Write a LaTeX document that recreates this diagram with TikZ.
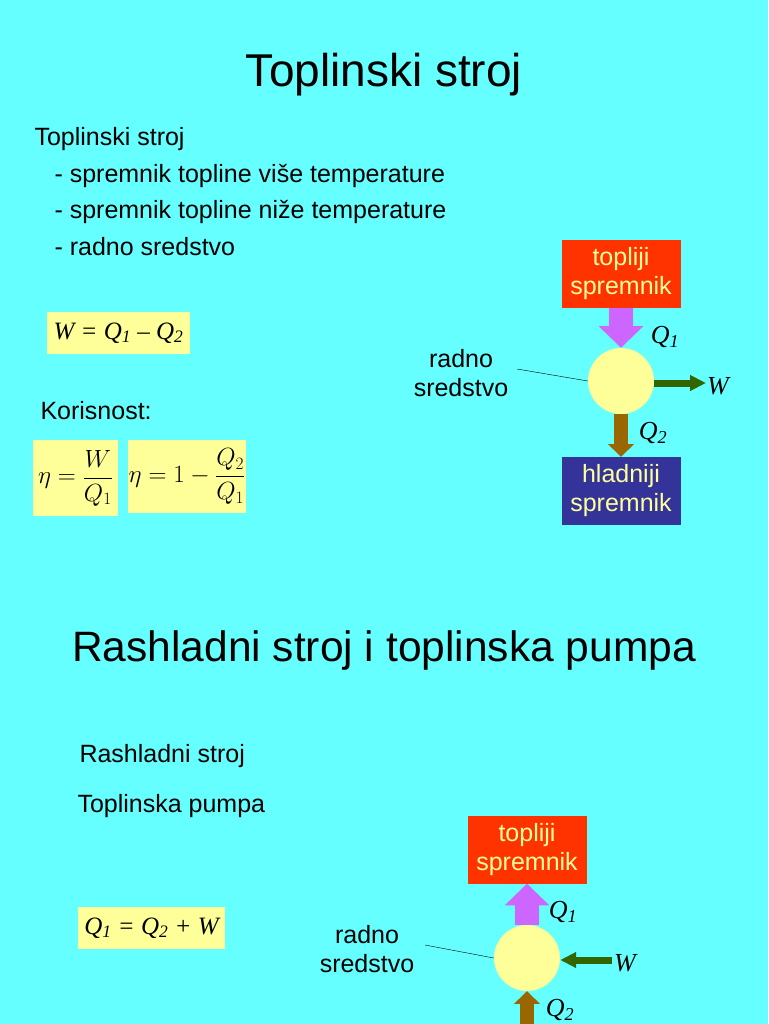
\documentclass[tikz,border=0pt]{standalone}
\usepackage{fontspec}
\setmainfont{Liberation Sans}
\newfontfamily\tms{Liberation Serif}
\usetikzlibrary{arrows.meta}
\definecolor{bg}{HTML}{66FFFF}
\definecolor{fy}{HTML}{FFFF99}
\definecolor{hot}{HTML}{FF3300}
\definecolor{cold}{HTML}{333399}
\definecolor{pinkc}{HTML}{CC66FF}
\definecolor{brownc}{HTML}{996600}
\definecolor{greenc}{HTML}{336600}
\tikzset{
 title/.style={font=\fontsize{46}{50}\selectfont},
 body/.style={font=\fontsize{25}{29}\selectfont, anchor=west},
 fbox/.style={fill=fy, draw=none},
 res/.style={fill=#1, draw=none, text=fy, minimum width=119pt, minimum height=68pt, align=center, inner sep=1pt, font=\fontsize{25}{29}\selectfont},
 ball/.style={circle, fill=fy, minimum size=66pt, inner sep=0pt},
 fat/.style={line width=#1, -{Triangle[width=1.8*#1,length=0.9*#1]}},
 thin/.style={line width=7pt, -{Triangle[width=15pt,length=16pt]}},
 ql/.style={font=\tms\itshape\fontsize{26}{28}\selectfont},
}
\begin{document}
\begin{tikzpicture}[x=1pt,y=-1pt]
\fill[bg] (0,0) rectangle (768,1024);
\useasboundingbox (0,0) rectangle (768,1024);
\node[title] (t1) at (384,75) {Toplinski stroj};
\node[body] (b1) at (31,139) {Toplinski stroj};
\node[body] (b2) at (51,176) {- spremnik topline više temperature};
\node[body] (b3) at (51,212) {- spremnik topline niže temperature};
\node[body] (b4) at (51,247) {- radno sredstvo};
\node[fbox, minimum width=143pt, minimum height=42pt] (f1) at (118.5,333) {\tms\itshape\fontsize{25}{27}\selectfont W = Q\textsubscript{1} – Q\textsubscript{2}};
\node[body] (kor) at (37,411) {Korisnost:};
\node[fbox, minimum width=85pt, minimum height=76pt, inner sep=1pt] (f2) at (75.5,478) {\fontsize{23}{28}\selectfont$\displaystyle\eta=\frac{W}{Q_1}$};
\node[fbox, minimum width=114pt, minimum height=73pt, inner sep=1pt] (f3) at (187,476.5) {\fontsize{23}{28}\selectfont$\displaystyle\eta=1-\frac{Q_2}{Q_1}$};

\node[ball] (c1) at (621,381) {};
\node[res=hot] (h1) at (c1 |- 0,274) {topliji\\spremnik};
\node[res=cold] (k1) at (c1 |- 0,491) {hladniji\\spremnik};
\draw[fat=24pt, pinkc] (h1.south) -- (c1.north);
\draw[fat=14pt, brownc] (c1.south) -- (k1.north);
\coordinate (w1) at (706,383);
\draw[thin, greenc] (c1.east |- w1) -- (w1);
\node[ql] (lw1) at (718,386) {W};
\node[ql] (lq1) at (665,337) {Q\textsubscript{1}};
\node[ql] (lq2) at (653,433) {Q\textsubscript{2}};
\node[font=\fontsize{25}{29}\selectfont, align=center] (r1) at (461,373) {radno\\sredstvo};
\coordinate (r1e) at (517,369);
\draw (r1e) -- (c1.west);

\node[font=\fontsize{42.5}{46}\selectfont] (t2) at (384,651) {Rashladni stroj i toplinska pumpa};
\node[body] (b5) at (76,756) {Rashladni stroj};
\node[body] (b6) at (74,806) {Toplinska pumpa};
\node[fbox, minimum width=147pt, minimum height=42pt] (f4) at (151.5,928) {\tms\itshape\fontsize{25}{27}\selectfont Q\textsubscript{1} = Q\textsubscript{2} + W};

\node[ball] (c2) at (527,958) {};
\node[res=hot] (h2) at (c2 |- 0,849.5) {topliji\\spremnik};
\draw[fat=24pt, pinkc] (c2.north) -- (h2.south);
\coordinate (w2) at (612,960);
\draw[thin, greenc] (w2) -- (c2.east |- w2);
\node[ql] (lw2) at (625,963) {W};
\node[ql] (lq3) at (563,912) {Q\textsubscript{1}};
\node[ql] (lq4) at (560,1010) {Q\textsubscript{2}};
\coordinate (bb) at (527,1030);
\draw[fat=14pt, brownc] (bb) -- (c2.south);
\node[font=\fontsize{25}{29}\selectfont, align=center] (r2) at (367,949) {radno\\sredstvo};
\coordinate (r2e) at (425,945);
\draw (r2e) -- (c2.west);
\end{tikzpicture}
\end{document}
